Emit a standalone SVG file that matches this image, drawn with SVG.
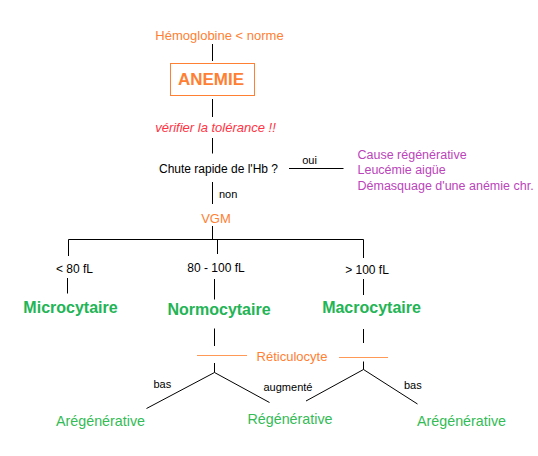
<svg xmlns="http://www.w3.org/2000/svg" width="538" height="456" viewBox="0 0 538 456">
<style>
text{font-family:"Liberation Sans",Arial,sans-serif;}
.or{fill:#FF8033;font-size:13px;}
.blk{fill:#000;font-size:12px;}
.sm{fill:#000;font-size:11px;}
.pu{fill:#BB44BB;font-size:12.5px;}
.gb{fill:#22B455;font-size:16px;font-weight:bold;}
.g{fill:#33BB55;font-size:14.3px;}
.ln{stroke:#000;stroke-width:1;fill:none;}
.lo{stroke:#FF9955;stroke-width:1;fill:none;}
</style>
<rect width="538" height="456" fill="#fff"/>
<g id="connectors">
<path class="ln" d="M212.5 44V61M212.5 99V117M212.5 138V153.5M289 168.5H343.5M212.5 182V204M212.5 226V239.5M68.5 239.5H363.5M68.5 239.5V256M217.5 239.5V254M363.5 239.5V258M67.5 278V293.5M214.5 279V299.5M363.5 279V295M214.5 328.5V346M363.5 329V343M214.5 363V372.5M363.5 361.5V369.5M214.5 372.5L146.5 408.5M214.5 372.5L269.5 402.5M363.5 369.5L306 401M363.5 369.5L417.5 404"/>
<path class="lo" d="M197 355.5H247M339 357.5H388"/>
</g>
<g id="hb"><text class="or" x="219.5" y="40" text-anchor="middle">Hémoglobine &lt; norme</text></g>
<g id="anemie"><rect x="170.5" y="63.5" width="84" height="32" fill="none" stroke="#FF8033" stroke-width="1"/><text x="211" y="84.5" text-anchor="middle" style="fill:#FF8033;font-size:17px;font-weight:bold">ANEMIE</text></g>
<g id="tolerance"><text x="215.5" y="131.5" text-anchor="middle" style="fill:#FF3344;font-size:13px;font-style:italic">vérifier la tolérance !!</text></g>
<g id="chute"><text class="blk" x="218.5" y="172.5" text-anchor="middle">Chute rapide de l'Hb ?</text></g>
<g id="oui"><text class="sm" x="309.5" y="163.5" text-anchor="middle">oui</text></g>
<g id="causes"><text class="pu" x="357.5" y="158.5">Cause régénérative</text><text class="pu" x="357.5" y="174">Leucémie aigüe</text><text class="pu" x="357.5" y="189.5">Démasquage d'une anémie chr.</text></g>
<g id="non"><text class="sm" x="219" y="197.5">non</text></g>
<g id="vgm"><text class="or" x="216" y="222.5" text-anchor="middle">VGM</text></g>
<g id="lt80"><text class="blk" x="74.5" y="272.5" text-anchor="middle">&lt; 80 fL</text></g>
<g id="mid"><text class="blk" x="216" y="271.5" text-anchor="middle">80 - 100 fL</text></g>
<g id="gt100"><text class="blk" x="367" y="273.5" text-anchor="middle">&gt; 100 fL</text></g>
<g id="micro"><text class="gb" x="70.5" y="312.5" text-anchor="middle">Microcytaire</text></g>
<g id="normo"><text class="gb" x="219" y="315" text-anchor="middle">Normocytaire</text></g>
<g id="macro"><text class="gb" x="371.5" y="313" text-anchor="middle">Macrocytaire</text></g>
<g id="reti"><text class="or" x="292" y="360.5" text-anchor="middle">Réticulocyte</text></g>
<g id="bas1"><text class="sm" x="153.5" y="387.5">bas</text></g>
<g id="augm"><text class="sm" x="263.5" y="390.5">augmenté</text></g>
<g id="bas2"><text class="sm" x="404" y="388.5">bas</text></g>
<g id="areg1"><text class="g" x="100.5" y="426" text-anchor="middle">Arégénérative</text></g>
<g id="reg"><text class="g" x="290" y="424" text-anchor="middle">Régénérative</text></g>
<g id="areg2"><text class="g" x="461.5" y="426" text-anchor="middle">Arégénérative</text></g>
</svg>
